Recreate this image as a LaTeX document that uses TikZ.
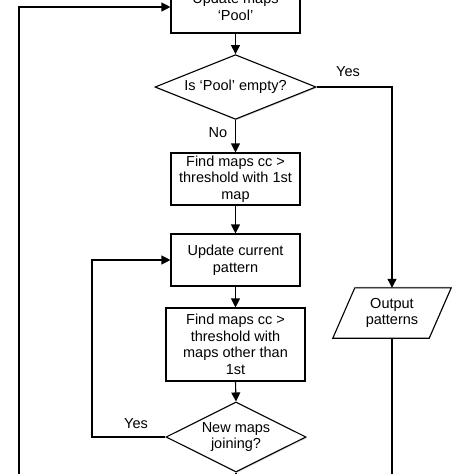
\documentclass[tikz,border=0pt]{standalone}
\usepackage{fontspec}
\setmainfont{Liberation Sans}
\usetikzlibrary{shapes.geometric,arrows.meta,shadows}
\begin{document}
\begin{tikzpicture}[x=1pt,y=-1pt,
  every node/.style={font=\fontsize{14.5}{16.5}\selectfont},
  procbox/.style={draw, line width=1.1pt, rectangle, inner sep=0pt, align=center,
    fill=white, drop shadow={shadow xshift=1pt,shadow yshift=-1pt,opacity=0.35}},
  decbox/.style={draw, line width=1.1pt, diamond, aspect=2, inner sep=0pt, align=center,
    fill=white, drop shadow={shadow xshift=1pt,shadow yshift=-1pt,opacity=0.35}},
  conn/.style={line width=1.1pt},
  arr/.style={conn, -{Triangle[length=9pt,width=9pt]}},
  lbl/.style={inner sep=0pt}
]
\useasboundingbox (0,0) rectangle (474,474);
\clip (0,0) rectangle (474,474);
\fill[white] (0,0) rectangle (474,474);

\node[procbox, minimum width=129pt, minimum height=52pt] (pool) at (235.5,7) {Update maps\\‘Pool’};
\node[decbox, minimum width=161pt, minimum height=64pt] (empty) at (235.5,87) {Is ‘Pool’ empty?};
\node[procbox, minimum width=129pt, minimum height=52pt] (first) at (235.5,179) {Find maps cc >\\threshold with 1st\\map};
\node[procbox, minimum width=129pt, minimum height=52pt] (cur) at (235.5,260) {Update current\\pattern};
\node[procbox, minimum width=139pt, minimum height=73pt] (other) at (235.5,344.5) {Find maps cc >\\threshold with\\maps other than\\1st};
\node[decbox, minimum width=140pt, minimum height=70pt] (join) at (236,437) {New maps\\joining?};

% output parallelogram
\node[minimum width=96pt, minimum height=50pt, inner sep=0pt, align=center] (out) at (392,313) {Output\\patterns};
\fill[black,opacity=0.35] ([xshift=12pt,yshift=1pt]out.north west) -- ([xshift=12pt,yshift=1pt]out.north east)
  -- ([xshift=-10pt,yshift=1pt]out.south east) -- ([xshift=-10pt,yshift=1pt]out.south west) -- cycle;
\draw[line width=1.1pt, fill=white] ([xshift=11pt]out.north west) -- ([xshift=11pt]out.north east)
  -- ([xshift=-11pt]out.south east) -- ([xshift=-11pt]out.south west) -- cycle;
\node[inner sep=0pt, align=center] at (out) {Output\\patterns};

\coordinate (botL) at (19,490);
\coordinate (botR) at (392,490);
\coordinate (botJ) at (236,490);

\draw[arr] (pool.south) -- (empty.north);
\draw[arr] (empty.south) -- (first.north);
\draw[arr] (first.south) -- (cur.north);
\draw[arr] (cur.south) -- (other.north);
\draw[arr] (other.south) -- (join.north);
\draw[arr] (empty.east) -| (out.north);
\draw[arr] (join.west) -- (92,437) |- (cur.west);
\draw[arr] (botL) |- (pool.west);
\draw[conn] (out.south) -- (botR);
\draw[conn] (join.south) -- (botJ);

\node[lbl] (yes1) at (348,72) {Yes};
\node[lbl] (no1) at (218,133) {No};
\node[lbl] (yes2) at (136,424) {Yes};
\end{tikzpicture}
\end{document}
